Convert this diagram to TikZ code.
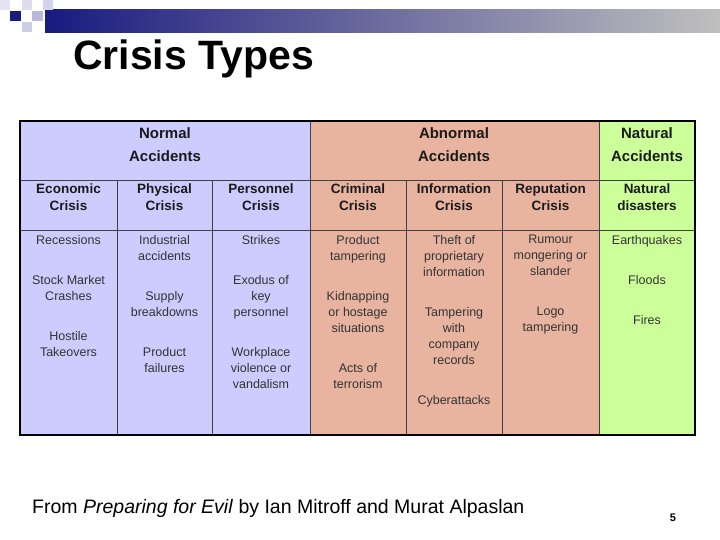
\documentclass[tikz,border=0pt]{standalone}
\usepackage{fontspec}
\setmainfont{Liberation Sans}
\definecolor{nblue}{HTML}{CCCCFF}
\definecolor{nsalmon}{HTML}{E8B4A0}
\definecolor{ngreen}{HTML}{CCFF99}
\definecolor{navy}{HTML}{1A1A80}
\definecolor{lsq}{HTML}{B8B8DC}
\definecolor{txt}{HTML}{1A1A1A}
\definecolor{btxt}{HTML}{333333}
\newcommand{\gap}{\\[24pt]}
\begin{document}
\begin{tikzpicture}[x=1pt,y=-1pt,
  hdr/.style={font=\fontsize{15}{23}\selectfont\bfseries,text=txt,align=center,anchor=north,inner sep=0pt},
  sub/.style={font=\fontsize{13.5}{17}\selectfont\bfseries,text=txt,align=center,anchor=north,inner sep=0pt},
  body/.style={font=\fontsize{12.5}{16}\selectfont,text=btxt,align=center,anchor=north,inner sep=0pt},
  grid/.style={draw=black!75,line width=0.8pt}]
\useasboundingbox (0,0) rectangle (720,540);
% header decoration
\shade[left color=navy,right color=black!25] (45,10) rectangle (720,33);
\fill[navy] (10,11) rectangle (21,21);
\fill[lsq] (32,11) rectangle (43,21);
\fill[lsq!60] (43,0) rectangle (53,10);
\fill[lsq!70] (22,22) rectangle (32,32);
\fill[lsq!50] (22,0) rectangle (32,10);
\fill[lsq!40] (0,0) rectangle (10,10);
\node[font=\fontsize{41}{46}\selectfont\bfseries,anchor=west,inner sep=0pt] (title) at (73,59) {Crisis Types};
% table fills
\fill[nblue] (20,121) rectangle (310,435);
\fill[nsalmon] (310,121) rectangle (599,435);
\fill[ngreen] (599,121) rectangle (695,435);
% grid
\foreach \x in {117,212,406,502} \draw[grid] (\x,180) -- (\x,435);
\foreach \x in {310,599} \draw[grid] (\x,121) -- (\x,435);
\draw[grid] (20,180) -- (695,180);
\draw[grid] (20,230) -- (695,230);
\draw[line width=2.5pt] (20,121) rectangle (695,435);
% headers
\node[hdr] (h1) at (165,127) {Normal\\Accidents};
\node[hdr] (h2) at (454,127) {Abnormal\\Accidents};
\node[hdr] (h3) at (647,127) {Natural\\Accidents};
% sub headers
\node[sub] (s1) at (68.5,184) {Economic\\Crisis};
\node[sub] (s2) at (164.5,184) {Physical\\Crisis};
\node[sub] (s3) at (261,184) {Personnel\\Crisis};
\node[sub] (s4) at (358,184) {Criminal\\Crisis};
\node[sub] (s5) at (454,184) {Information\\Crisis};
\node[sub] (s6) at (550.5,184) {Reputation\\Crisis};
\node[sub] (s7) at (647,184) {Natural\\disasters};
% body
\node[body] (b1) at (68.5,235) {Recessions\gap Stock Market\\Crashes\gap Hostile\\Takeovers};
\node[body] (b2) at (164.5,235) {Industrial\\accidents\gap Supply\\breakdowns\gap Product\\failures};
\node[body] (b3) at (261,235) {Strikes\gap Exodus of\\key\\personnel\gap Workplace\\violence or\\vandalism};
\node[body] (b4) at (358,235) {Product\\tampering\gap Kidnapping\\or hostage\\situations\gap Acts of\\terrorism};
\node[body] (b5) at (454,235) {Theft of\\proprietary\\information\gap Tampering\\with\\company\\records\gap Cyberattacks};
\node[body] (b6) at (550.5,235) {Rumour\\mongering or\\slander\gap Logo\\tampering};
\node[body] (b7) at (647,235) {Earthquakes\gap Floods\gap Fires};
% footer
\node[font=\fontsize{19.5}{22}\selectfont,anchor=west,inner sep=0pt] (foot) at (32,508) {From \textit{Preparing for Evil} by Ian Mitroff and Murat Alpaslan};
\node[font=\fontsize{11}{12}\selectfont\bfseries,inner sep=0pt] (pg) at (673,518) {5};
\end{tikzpicture}
\end{document}
